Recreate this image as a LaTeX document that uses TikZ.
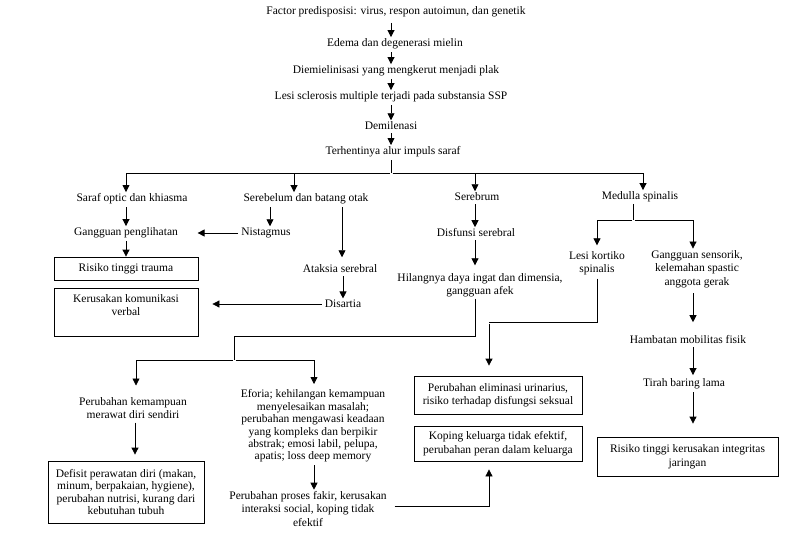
\documentclass[tikz,border=0pt]{standalone}
\usepackage{fontspec}
\setmainfont{Liberation Serif}
\usetikzlibrary{arrows.meta,calc}
\newcommand\fs{\fontsize{11.5}{13.5}\selectfont}
\newcommand\fsn{\fontsize{11.5}{12.6}\selectfont}
\tikzset{
  lbl/.style={font=\fs, align=center, inner sep=1.5pt},
  boxn/.style={draw, line width=0.8pt, font=\fs, align=center, inner sep=2pt},
  arr/.style={line width=0.8pt, -{Triangle[width=7pt,length=7pt]}, shorten <=1.5pt},
  ln/.style={line width=0.8pt}
}
\begin{document}
\begin{tikzpicture}[x=1pt,y=-1pt]
\fill[white] (0,0) rectangle (792,535);
\useasboundingbox (0,0) rectangle (792,535);
% spine coordinates
\coordinate (spine) at (391,0);
\coordinate (bus) at (391,173);
\coordinate (gx) at (693,0);
% top chain
\node[lbl] (f1) at (396,12) {Factor predisposisi: virus, respon autoimun, dan genetik};
\node[lbl] (f2) at (395,44) {Edema dan degenerasi mielin};
\node[lbl] (f3) at (396,71) {Diemielinisasi yang mengkerut menjadi plak};
\node[lbl] (f4) at (391,97) {Lesi sclerosis multiple terjadi pada substansia SSP};
\node[lbl] (f5) at (391,126) {Demilenasi};
\node[lbl] (f6) at (393,152) {Terhentinya alur impuls saraf};
\draw[arr, shorten <=4pt] (f1.south -| spine) -- (f2.north -| spine);
\draw[arr] (f2.south -| spine) -- (f3.north -| spine);
\draw[arr] (f3.south -| spine) -- (f4.north -| spine);
\draw[arr] (f4.south -| spine) -- (f5.north -| spine);
\draw[arr] (f5.south -| spine) -- (f6.north -| spine);
% level 2
\node[lbl] (so) at (132,199) {Saraf optic dan khiasma};
\node[lbl] (sb) at (306,199) {Serebelum dan batang otak};
\node[lbl] (sr) at (477,197) {Serebrum};
\node[lbl] (ms) at (640,197) {Medulla spinalis};
\draw[ln, shorten <=1.5pt] (f6.south -| spine) -- (bus);
\draw[arr] (bus) -| ([xshift=-6pt]so.north);
\draw[arr] (bus) -| ([xshift=-12pt]sb.north);
\draw[arr] (bus) -| ([xshift=-2pt]sr.north);
\draw[arr] (bus) -| ([xshift=3pt]ms.north);
% left branch
\node[lbl] (gp) at (126,233) {Gangguan penglihatan};
\node[lbl] (ni) at (266,233) {Nistagmus};
\node[boxn, minimum width=144pt, minimum height=23pt] (rt) at (126,268.5) {Risiko tinggi trauma};
\node[boxn, minimum width=144pt, minimum height=48pt] (kk) at (126,312) {Kerusakan komunikasi\\verbal\\~};
\node[lbl] (at) at (340,269) {Ataksia serebral};
\node[lbl] (di) at (343,304) {Disartia};
\draw[arr] ([xshift=-6pt]so.south) -- ([xshift=-6pt]so.south |- gp.north);
\draw[arr] (gp.south) -- (rt.north);
\draw[arr] ([xshift=-36pt]sb.south) -- ([xshift=-36pt]sb.south |- ni.north);
\draw[arr, shorten >=18pt] (ni.west) -- (gp.east);
\draw[arr, shorten >=6pt] ([xshift=36pt]sb.south) -- ([xshift=36pt]sb.south |- at.north);
\draw[arr] (at.south -| di) -- (di.north);
\draw[arr, shorten >=14pt] (di.west) -- (di.west -| kk.east);
% serebrum branch
\node[lbl] (sf) at (476,233) {Disfunsi serebral};
\node[lbl] (hd) at (480,285) {Hilangnya daya ingat dan dimensia,\\gangguan afek};
\draw[arr] ([xshift=-2pt]sr.south) -- ([xshift=-2pt]sr.south |- sf.north);
\draw[arr, shorten >=6pt] ([xshift=-1pt]sf.south) -- ([xshift=-1pt]sf.south |- hd.north);
\coordinate (c1) at (234,336);
\coordinate (c2) at (234,360);
\node[lbl] (pk) at (133,408) {Perubahan kemampuan\\merawat diri sendiri};
\node[lbl, font=\fontsize{11.5}{12.4}\selectfont] (ef) at (313,426) {Eforia; kehilangan kemampuan\\menyelesaikan masalah;\\perubahan mengawasi keadaan\\yang kompleks dan berpikir\\abstrak; emosi labil, pelupa,\\apatis; loss deep memory};
\node[lbl] (pp) at (308,509) {Perubahan proses fakir, kerusakan\\interaksi social, koping tidak\\efektif};
\node[boxn, font=\fsn, minimum width=156pt, minimum height=62pt] (dp) at (126,492) {Defisit perawatan diri (makan,\\minum, berpakaian, hygiene),\\perubahan nutrisi, kurang dari\\kebutuhan tubuh};
\draw[ln] ([xshift=-5pt]hd.south) |- (c1) -- (c2);
\draw[arr, shorten >=10pt] (c2) -| ([xshift=3pt]pk.north);
\draw[arr, shorten >=4pt] (c2) -| ([xshift=1pt]ef.north);
\draw[arr, shorten <=2pt, shorten >=6pt] ([xshift=2pt]pk.south) -- ([xshift=2pt]pk.south |- dp.north);
\draw[arr] ([xshift=1pt]ef.south) -- ([xshift=1pt]ef.south |- pp.north);
% medulla branch
\coordinate (m1) at (633,220);
\node[lbl] (lk) at (597,263) {Lesi kortiko\\spinalis};
\node[lbl] (gs) at (697,269) {Gangguan sensorik,\\kelemahan spastic\\anggota gerak};
\node[boxn, minimum width=168pt, minimum height=38pt] (pe) at (498,395) {Perubahan eliminasi urinarius,\\risiko terhadap disfungsi seksual};
\node[boxn, minimum width=168pt, minimum height=35pt] (kl) at (498,443.5) {Koping keluarga tidak efektif,\\perubahan peran dalam keluarga};
\node[lbl] (hm) at (688,340) {Hambatan mobilitas fisik};
\node[lbl] (tb) at (684,384) {Tirah baring lama};
\node[boxn, minimum width=181pt, minimum height=39pt] (rk) at (687.5,456.5) {Risiko tinggi kerusakan integritas\\jaringan};
\draw[ln] ([xshift=-7pt]ms.south) -- (m1);
\draw[arr, shorten >=4pt] (m1) -| (lk.north);
\draw[arr] (m1) -| (gs.north -| gx);
\coordinate (c3) at (489,322);
\draw[ln, shorten <=2pt] (lk.south) |- (c3);
\draw[arr, shorten >=10pt] (c3) -- (c3 |- pe.north);
\draw[arr, shorten <=4pt, shorten >=12pt] (gs.south -| gx) -- (hm.north -| gx);
\draw[arr, shorten >=2pt] (hm.south -| gx) -- (tb.north -| gx);
\draw[arr, shorten >=13pt] (tb.south -| gx) -- (rk.north -| gx);
\coordinate (c4) at (393,506);
\draw[arr, shorten >=8pt] (c4) -| (c3 |- kl.south);
\end{tikzpicture}
\end{document}
